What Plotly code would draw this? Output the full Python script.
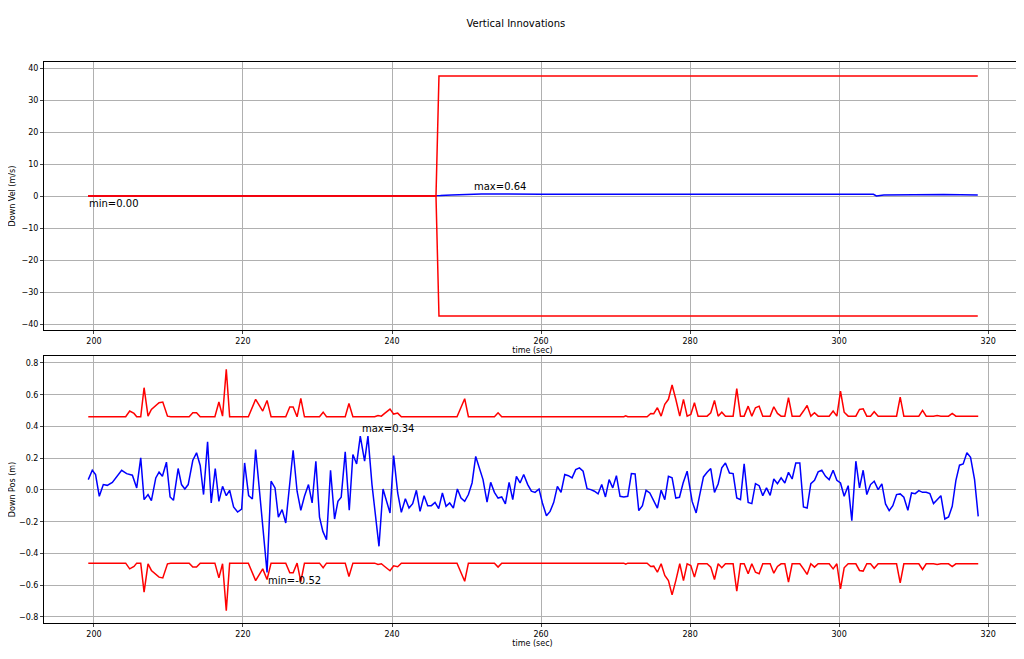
import plotly.graph_objects as go

# top panel: vertical velocity innovation and its bound
vel_time = [199.2, 245.9, 246.5, 248.0, 250.0, 252.0, 260.0, 280.0, 304.6, 305.0, 306.0, 310.0, 314.0, 318.6]
vel_innov = [0.0, 0.0, 0.15, 0.35, 0.5, 0.64, 0.6, 0.58, 0.55, 0.05, 0.3, 0.45, 0.5, 0.3]
vel_bound_time = [199.2, 245.9, 246.3, 318.6]
vel_bound = [0.0, 0.0, 37.5, 37.5]

# bottom panel: vertical position innovation
pos_time = [
    199.24, 199.78, 200.22, 200.72, 201.26, 201.79, 202.47, 203.14, 203.72, 204.39, 205.16, 205.74, 206.28, 206.73,
    207.26, 207.71, 208.30, 208.74, 209.19, 209.73, 210.22, 210.67, 211.30, 211.75, 212.20, 212.65, 213.27, 213.77,
    214.26, 214.71, 215.25, 215.74, 216.28, 216.77, 217.26, 217.76, 218.21, 218.74, 219.28, 219.82, 220.22, 220.76,
    221.26, 221.70, 222.33, 223.23, 223.77, 224.30, 224.75, 225.25, 225.74, 226.28, 226.73, 227.26, 227.76, 228.25,
    228.79, 229.28, 229.78, 230.27, 230.72, 231.21, 231.75, 232.29, 232.74, 233.18, 233.72, 234.26, 234.75, 235.25,
    235.74, 236.32, 236.77, 237.31, 238.25, 238.79, 239.19, 239.73, 240.22, 240.76, 241.25, 241.79, 242.28, 242.77,
    243.27, 243.76, 244.30, 244.79, 245.28, 245.77, 246.26, 246.76, 247.25, 247.74, 248.23, 248.77, 249.26, 249.75,
    250.25, 250.74, 251.23, 251.72, 252.21, 252.75, 253.24, 253.74, 254.23, 254.72, 255.21, 255.71, 256.20, 256.69,
    257.18, 257.67, 258.21, 258.70, 259.19, 259.73, 260.18, 260.72, 261.21, 261.70, 262.19, 262.68, 263.18, 263.67,
    264.16, 264.65, 265.15, 265.64, 266.17, 266.67, 267.16, 267.65, 268.14, 268.64, 269.13, 269.62, 270.11, 270.60,
    271.10, 271.63, 272.12, 272.62, 273.11, 273.60, 274.09, 274.59, 275.12, 275.61, 276.11, 276.60, 277.09, 277.58,
    278.08, 278.57, 279.06, 279.60, 280.27, 280.81, 281.25, 281.79, 282.28, 282.77, 283.27, 283.76, 284.25, 284.74,
    285.28, 285.77, 286.26, 286.76, 287.25, 287.79, 288.28, 288.77, 289.26, 289.75, 290.25, 290.74, 291.23, 291.72,
    292.21, 292.71, 293.20, 293.69, 294.18, 294.72, 295.21, 295.70, 296.20, 296.69, 297.18, 297.67, 298.17, 298.66,
    299.19, 299.69, 300.18, 300.67, 301.21, 301.70, 302.24, 302.73, 303.22, 303.71, 304.21, 304.70, 305.23, 305.73,
    306.22, 306.71, 307.20, 307.70, 308.19, 308.68, 309.22, 309.71, 310.20, 310.69, 311.19, 311.68, 312.17, 312.66,
    313.15, 313.65, 314.18, 314.68, 315.17, 315.66, 316.15, 316.64, 317.14, 317.63, 318.17, 318.66,
]
pos_innov = [
    0.065, 0.124, 0.097, -0.040, 0.034, 0.029, 0.048, 0.086, 0.124, 0.103, 0.093, 0.013, 0.202, -0.061,
    -0.029, -0.067, 0.076, 0.112, 0.086, 0.175, -0.044, -0.065, 0.135, 0.034, 0.006, 0.034, 0.187, 0.234,
    0.154, -0.029, 0.303, -0.082, 0.135, -0.072, 0.023, -0.036, -0.002, -0.107, -0.139, -0.120, 0.170, -0.036,
    -0.057, 0.255, -0.061, -0.520, 0.055, 0.013, -0.171, -0.124, -0.208, 0.065, 0.250, -0.008, -0.128, -0.040,
    0.034, -0.082, 0.181, -0.171, -0.261, -0.314, 0.124, -0.183, -0.072, -0.046, 0.240, -0.128, 0.223, 0.164,
    0.339, 0.181, 0.339, 0.034, -0.355, 0.006, -0.061, -0.145, 0.217, -0.019, -0.141, -0.055, -0.114, -0.086,
    -0.002, -0.135, -0.036, -0.099, -0.099, -0.078, -0.118, -0.019, -0.103, -0.082, -0.114, 0.006, -0.051, -0.072,
    -0.029, 0.044, 0.211, 0.139, 0.065, -0.076, 0.048, -0.015, -0.051, -0.044, -0.088, 0.048, -0.061, 0.086,
    0.044, 0.097, 0.034, -0.008, -0.015, 0.006, -0.082, -0.162, -0.135, -0.078, 0.023, -0.015, 0.097, 0.090,
    0.076, 0.128, 0.139, 0.118, 0.008, 0.002, -0.008, -0.025, 0.034, -0.044, 0.065, 0.013, 0.090, -0.040,
    -0.044, -0.040, 0.103, 0.101, -0.130, -0.099, -0.002, -0.019, -0.072, -0.114, -0.002, -0.061, 0.086, 0.076,
    -0.051, -0.046, 0.044, 0.118, -0.072, -0.145, -0.040, 0.082, 0.111, 0.135, -0.015, 0.038, 0.139, 0.170,
    0.107, 0.103, -0.050, -0.061, 0.164, -0.078, -0.086, 0.040, 0.027, -0.036, 0.013, -0.034, 0.069, 0.040,
    0.076, 0.044, 0.111, 0.069, 0.170, 0.170, -0.107, -0.114, 0.040, 0.061, 0.114, 0.124, 0.086, 0.065,
    0.124, 0.061, 0.044, -0.040, 0.027, -0.194, 0.181, 0.013, 0.124, -0.029, 0.034, 0.055, 0.002, 0.038,
    -0.088, -0.130, -0.099, -0.029, -0.025, -0.046, -0.128, -0.019, -0.023, -0.004, -0.015, -0.015, -0.023, -0.086,
    -0.061, -0.036, -0.183, -0.170, -0.103, 0.059, 0.156, 0.164, 0.234, 0.206, 0.065, -0.166,
]

# bottom panel: innovation bound (plotted as +/-)
bound_time = [
    199.24, 204.26, 204.80, 205.38, 205.74, 206.28, 206.73, 207.26, 207.71, 208.30, 208.74, 209.24, 209.87, 210.31,
    212.78, 213.27, 213.77, 214.26, 216.23, 216.77, 217.26, 217.76, 218.21, 220.72, 221.70, 222.65, 223.23, 223.77,
    225.74, 226.28, 226.73, 227.26, 227.76, 228.25, 230.27, 230.76, 231.21, 233.72, 234.22, 234.75, 237.67, 238.12,
    238.57, 239.01, 239.73, 240.22, 240.76, 241.25, 248.72, 249.75, 250.25, 253.74, 254.23, 254.72, 271.10, 271.36,
    271.63, 274.23, 274.72, 275.12, 275.61, 276.11, 276.60, 277.09, 277.58, 278.08, 278.61, 279.11, 279.60, 280.09,
    280.58, 281.07, 282.28, 282.77, 283.27, 283.76, 284.25, 284.74, 285.77, 286.26, 286.76, 287.25, 287.79, 288.28,
    288.77, 289.26, 289.75, 290.74, 291.23, 291.72, 292.21, 292.71, 293.20, 293.69, 294.72, 295.21, 295.70, 296.20,
    296.69, 297.18, 298.66, 299.19, 299.69, 300.18, 300.67, 301.21, 302.24, 302.73, 303.22, 303.71, 304.21, 304.70,
    305.23, 307.70, 308.19, 308.68, 310.69, 311.19, 311.68, 312.66, 313.15, 313.65, 314.68, 315.17, 315.66, 318.66,
]
bound = [
    0.461, 0.461, 0.497, 0.482, 0.461, 0.461, 0.644, 0.465, 0.507, 0.528, 0.549, 0.554, 0.465, 0.461,
    0.461, 0.486, 0.486, 0.461, 0.461, 0.554, 0.465, 0.760, 0.461, 0.461, 0.571, 0.497, 0.564, 0.461,
    0.461, 0.522, 0.522, 0.461, 0.577, 0.461, 0.461, 0.490, 0.461, 0.461, 0.545, 0.461, 0.461, 0.469,
    0.465, 0.482, 0.509, 0.478, 0.484, 0.461, 0.461, 0.575, 0.461, 0.461, 0.486, 0.461, 0.461, 0.467,
    0.461, 0.461, 0.482, 0.480, 0.518, 0.465, 0.539, 0.571, 0.661, 0.571, 0.465, 0.571, 0.465, 0.476,
    0.549, 0.465, 0.465, 0.486, 0.564, 0.465, 0.490, 0.465, 0.465, 0.638, 0.465, 0.465, 0.528, 0.465,
    0.518, 0.528, 0.465, 0.465, 0.524, 0.482, 0.465, 0.465, 0.581, 0.465, 0.465, 0.497, 0.532, 0.465,
    0.486, 0.465, 0.465, 0.497, 0.465, 0.623, 0.490, 0.465, 0.465, 0.507, 0.511, 0.465, 0.465, 0.493,
    0.465, 0.465, 0.585, 0.465, 0.465, 0.501, 0.465, 0.465, 0.469, 0.465, 0.465, 0.482, 0.465, 0.465,
]

fig = go.Figure()
line = dict(width=1.5)
fig.add_trace(go.Scatter(x=vel_time, y=vel_innov, mode="lines", line=dict(color="blue", **line), xaxis="x", yaxis="y"))
fig.add_trace(go.Scatter(x=vel_bound_time, y=vel_bound, mode="lines", line=dict(color="red", **line), xaxis="x", yaxis="y"))
fig.add_trace(go.Scatter(x=vel_bound_time, y=[-v for v in vel_bound], mode="lines", line=dict(color="red", **line), xaxis="x", yaxis="y"))
fig.add_trace(go.Scatter(x=pos_time, y=pos_innov, mode="lines", line=dict(color="blue", **line), xaxis="x2", yaxis="y2"))
fig.add_trace(go.Scatter(x=bound_time, y=bound, mode="lines", line=dict(color="red", **line), xaxis="x2", yaxis="y2"))
fig.add_trace(go.Scatter(x=bound_time, y=[-v for v in bound], mode="lines", line=dict(color="red", **line), xaxis="x2", yaxis="y2"))

ax = dict(showgrid=True, gridcolor="#b0b0b0", gridwidth=1, zeroline=False, showline=True, linecolor="black",
          linewidth=1, mirror=True, ticks="outside", ticklen=3, automargin=False,
          tickfont=dict(size=8, color="black"))
xticks = [200, 220, 240, 260, 280, 300, 320]
fig.update_layout(
    width=1024, height=659, showlegend=False,
    plot_bgcolor="white", paper_bgcolor="white",
    margin=dict(l=36, r=11, t=54, b=44),
    font=dict(family="DejaVu Sans", size=9, color="black"),
    title=dict(text="Vertical Innovations", x=0.496, y=0.977, xanchor="center", yanchor="middle",
               font=dict(size=10)),
    xaxis=dict(ax, domain=[0, 1], range=[193.3, 324.4], tickvals=xticks, anchor="y",
               title=dict(text="time (sec)", font=dict(size=8), standoff=0)),
    yaxis=dict(ax, domain=[0.522, 1], range=[-41.9, 41.9], tickvals=[-40, -30, -20, -10, 0, 10, 20, 30, 40],
               ticktext=["−40", "−30", "−20", "−10", "0", "10", "20", "30", "40"],
               anchor="x", title=dict(text="Down Vel (m/s)", font=dict(size=8), standoff=6)),
    xaxis2=dict(ax, domain=[0, 1], range=[193.3, 324.4], tickvals=xticks, anchor="y2",
                title=dict(text="time (sec)", font=dict(size=8), standoff=0)),
    yaxis2=dict(ax, domain=[0, 0.476], range=[-0.838, 0.844],
                tickvals=[-0.8, -0.6, -0.4, -0.2, 0, 0.2, 0.4, 0.6, 0.8],
                ticktext=["−0.8", "−0.6", "−0.4", "−0.2", "0.0", "0.2", "0.4", "0.6", "0.8"],
                anchor="x2", title=dict(text="Down Pos (m)", font=dict(size=8), standoff=6)),
)

notes = [
    ("x", "y", 199.2, 0.0, "min=0.00", "top"),
    ("x", "y", 250.9, 0.64, "max=0.64", "bottom"),
    ("x2", "y2", 235.9, 0.34, "max=0.34", "bottom"),
    ("x2", "y2", 223.2, -0.52, "min=-0.52", "top"),
]
for xr, yr, xv, yv, txt, ya in notes:
    fig.add_annotation(x=xv, y=yv, xref=xr, yref=yr, text=txt, showarrow=False, xanchor="left",
                       yanchor=ya, font=dict(size=10, color="black"), xshift=-1)

fig.write_html("out.html")
